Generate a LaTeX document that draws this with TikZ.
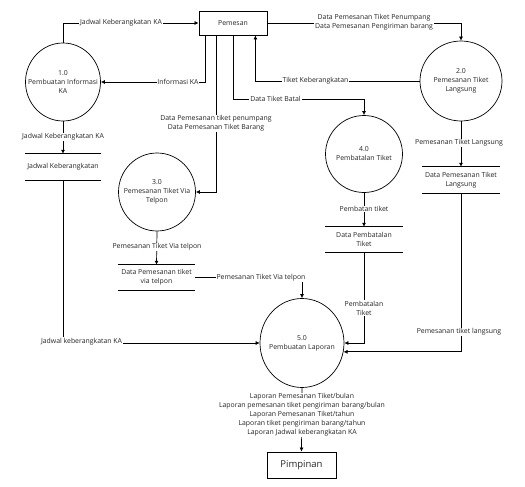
\documentclass[tikz,border=0pt]{standalone}
\usepackage{fontspec}
\setmainfont{Open Sans}
\usetikzlibrary{shapes.geometric,arrows.meta}
\begin{document}
\begin{tikzpicture}[x=1pt,y=-1pt,
  every node/.style={font=\fontsize{6.9}{9}\selectfont, text=black!85},
  ent/.style={draw, line width=0.8pt, minimum width=68pt, minimum height=24pt, inner sep=0pt},
  proc/.style={draw, ellipse, line width=0.7pt, inner sep=0pt},
  ptext/.style={align=center, inner sep=0pt},
  store/.style={minimum height=25pt, align=center, inner sep=0pt},
  lbl/.style={fill=white, inner sep=0.8pt, align=center},
  arr/.style={line width=0.7pt, -{Latex[length=4pt,width=4pt]}},
  ln/.style={line width=0.7pt}]
\useasboundingbox (0,0) rectangle (525,487);
% entities
\node[ent] (pem) at (233,23) {Pemesan};
\node[ent, minimum width=69pt, minimum height=26pt, font=\fontsize{9.5}{11}\selectfont] (pim) at (301.5,465) {Pimpinan};
% processes
\node[proc, minimum width=75pt, minimum height=78pt] (p1) at (63,82) {};
\node[ptext] (t1) at (p1.center) {1.0\\Pembuatan Informasi\\KA};
\node[proc, minimum width=82pt, minimum height=80pt] (p2) at (461,81) {};
\node[ptext] (t2) at (p2.center) {2.0\\Pemesanan Tiket\\Langsung};
\node[proc, minimum width=77pt, minimum height=78pt] (p3) at (157,192) {};
\node[ptext] (t3) at (p3.center) {3.0\\Pemesanan Tiket Via\\Telpon};
\node[proc, minimum width=77pt, minimum height=77pt] (p4) at (364,154) {};
\node[ptext] (t4) at (p4.center) {4.0\\Pembatalan Tiket};
\node[proc, minimum width=84pt, minimum height=89pt] (p5) at (302,343) {};
\node[ptext] (t5) at (p5.center) {5.0\\Pembuatan Laporan};
% stores
\node[store, minimum width=76pt, minimum height=26pt] (s1) at (63,167) {Jadwal Keberangkatan};
\node[store, minimum width=78pt, minimum height=26pt] (s2) at (461,180) {Data Pemesanan Tiket\\Langsung};
\node[store, minimum width=77pt] (s3) at (156.5,277.5) {Data Pemesanan tiket\\via telpon};
\node[store, minimum width=78pt] (s4) at (364,239.5) {Data Pembatalan\\Tiket};
\foreach \s in {s1,s2,s3,s4}{
  \draw[ln] (\s.north west) -- (\s.north east);
  \draw[ln] (\s.south west) -- (\s.south east);
}
% connectors
\draw[arr] (p1.north) |- (pem.west);
\draw[arr] ([xshift=7pt]pem.south west) |- (p1.east);
\draw[arr] ([xshift=18pt]pem.south west) |- (p3.east);
\draw[arr] (pem.south) |- ([yshift=16pt]p4.north) -- (p4.north);
\draw[arr] (p2.west) -| ([xshift=-12pt]pem.south east);
\draw[arr] (pem.east) -| (p2.north);
\draw[arr] (p2.south) -- (s2.north);
\draw[arr] (p4.south) -- (s4.north);
\draw[arr] (s4.south) |- (p5.east);
\draw[arr] (s2.south) |- (p5.-12.4);
\draw[arr] (s1.south) |- (p5.west);
\draw[arr] (p3.south) -- (s3.north);
\draw[arr] (s3.east) -| (p5.north);
\draw[arr] (p1.south) -- (s1.north);
\draw[arr] (p5.south) -- (pim.north);
% labels
\node[lbl] at (121,23) {Jadwal Keberangkatan KA};
\node[lbl] at (178,82) {Informasi KA};
\node[lbl] at (216,123.5) {Data Pemesanan tiket penumpang\\Data Pemesanan Tiket Barang};
\node[lbl] at (275.5,99) {Data Tiket Batal};
\node[lbl] at (315.5,81) {Tiket Keberangkatan};
\node[lbl] at (374,22) {Data Pemesanan Tiket Penumpang\\Data Pemesanan Pengiriman barang};
\node[lbl] at (459,143) {Pemesanan Tiket Langsung};
\node[lbl] at (63,137) {Jadwal Keberangkatan KA};
\node[lbl] at (157,247) {Pemesanan Tiket Via telpon};
\node[lbl] at (261,278) {Pemesanan Tiket Via telpon};
\node[lbl] at (364,209) {Pembatan tiket};
\node[lbl] at (364,308) {Pembatalan\\Tiket};
\node[lbl] at (459,332) {Pemesanan tiket langsung};
\node[lbl] at (81.5,341.5) {Jadwal keberangkatan KA};
\node[lbl] at (302,415) {Laporan Pemesanan Tiket/bulan\\Laporan pemesanan tiket pengiriman barang/bulan\\Laporan Pemesanan Tiket/tahun\\Laporan tiket pengiriman barang/tahun\\Laporan Jadwal keberangkatan KA};
\end{tikzpicture}
\end{document}
